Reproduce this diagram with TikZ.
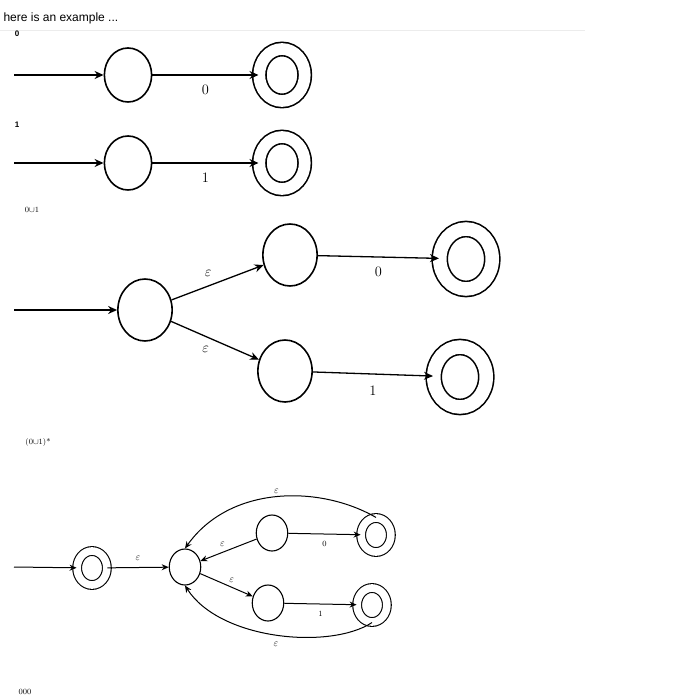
\documentclass[tikz,border=0pt]{standalone}
\usepackage{fontspec}
\newfontfamily\sansf{Liberation Sans}
\usetikzlibrary{shapes.geometric,arrows.meta}
\begin{document}
\begin{tikzpicture}[x=1pt,y=-1pt,
 st/.style={draw,line width=1.6pt,ellipse,minimum width=#1*1.75pt,minimum height=#1*2pt,inner sep=0pt},
 acc/.style={st=#1,double,double distance=#1*0.45pt},
 ar/.style={-{Stealth[length=9pt,width=8pt]},line width=1.3pt},
 lb/.style={font=\Large},
 sm/.style={st=#1,line width=1.1pt},
 sacc/.style={sm=#1,double,double distance=#1*0.45pt},
 sar/.style={-{Stealth[length=7pt,width=6pt]},line width=1pt}]
\useasboundingbox (0,0) rectangle (688,700);
\node[anchor=west,font=\sansf\large] (t) at (0,18) {here is an example ...};
\draw[gray!15] (0,30) -- (585,30);
\node[font=\sansf\bfseries\footnotesize] (h0) at (17,34) {0};
\node[font=\sansf\bfseries\footnotesize] (h1) at (17,125) {1};
\node[font=\footnotesize] (h2) at (32,210) {0$\cup$1};
\node[font=\footnotesize] (h3) at (38,442) {(0$\cup$1)*};
\node[font=\footnotesize] (h4) at (25,692) {000};
% row 1
\coordinate (s1) at (14,75);
\node[st=27] (a1) at (128,75) {};
\node[acc=26] (b1) at (282,75) {};
\draw[ar] (s1) -- (a1);
\draw[ar] (a1) -- node[lb,below=6pt]{0} (b1);
% row 2
\coordinate (s2) at (14,163);
\node[st=27] (a2) at (128,163) {};
\node[acc=26] (b2) at (282,163) {};
\draw[ar] (s2) -- (a2);
\draw[ar] (a2) -- node[lb,below=6pt]{1} (b2);
% row 3
\coordinate (s3) at (14,310);
\node[st=31] (c) at (145,310) {};
\node[st=31] (u) at (290,255) {};
\node[acc=30] (ua) at (466,259) {};
\node[st=31] (d) at (285,371) {};
\node[acc=30] (da) at (460,377) {};
\draw[ar] (s3) -- (c);
\draw[ar] (c) -- node[lb,above left=2pt]{$\varepsilon$} (u);
\draw[ar] (c) -- node[lb,below left=2pt]{$\varepsilon$} (d);
\draw[ar] (u) -- node[lb,below=6pt]{0} (ua);
\draw[ar] (d) -- node[lb,below=8pt]{1} (da);
% row 4
\coordinate (s4) at (14,567);
\node[sacc=17] (q0) at (92,568) {};
\node[sm=18] (q1) at (185,567) {};
\node[sm=18] (q2) at (272,533) {};
\node[sacc=17] (q3) at (376,535) {};
\node[sm=18] (q4) at (268,603) {};
\node[sacc=17] (q5) at (372,605) {};
\draw[sar] (s4) -- (q0);
\draw[sar] (q0) -- node[above=3pt]{$\varepsilon$} (q1);
\draw[sar] (q2) -- node[above left=0pt]{$\varepsilon$} (q1);
\draw[sar] (q1) -- node[above right=-1pt]{$\varepsilon$} (q4);
\draw[sar] (q2) -- node[below=3pt,font=\footnotesize]{0} (q3);
\draw[sar] (q4) -- node[below=3pt,font=\footnotesize]{1} (q5);
\draw[sar] (q3.north) .. controls (320,485) and (230,485) .. node[above,pos=0.5]{$\varepsilon$} (q1.north);
\draw[sar] (q5.south) .. controls (330,650) and (220,640) .. node[below=4pt,pos=0.5]{$\varepsilon$} (q1.south);
\end{tikzpicture}
\end{document}
